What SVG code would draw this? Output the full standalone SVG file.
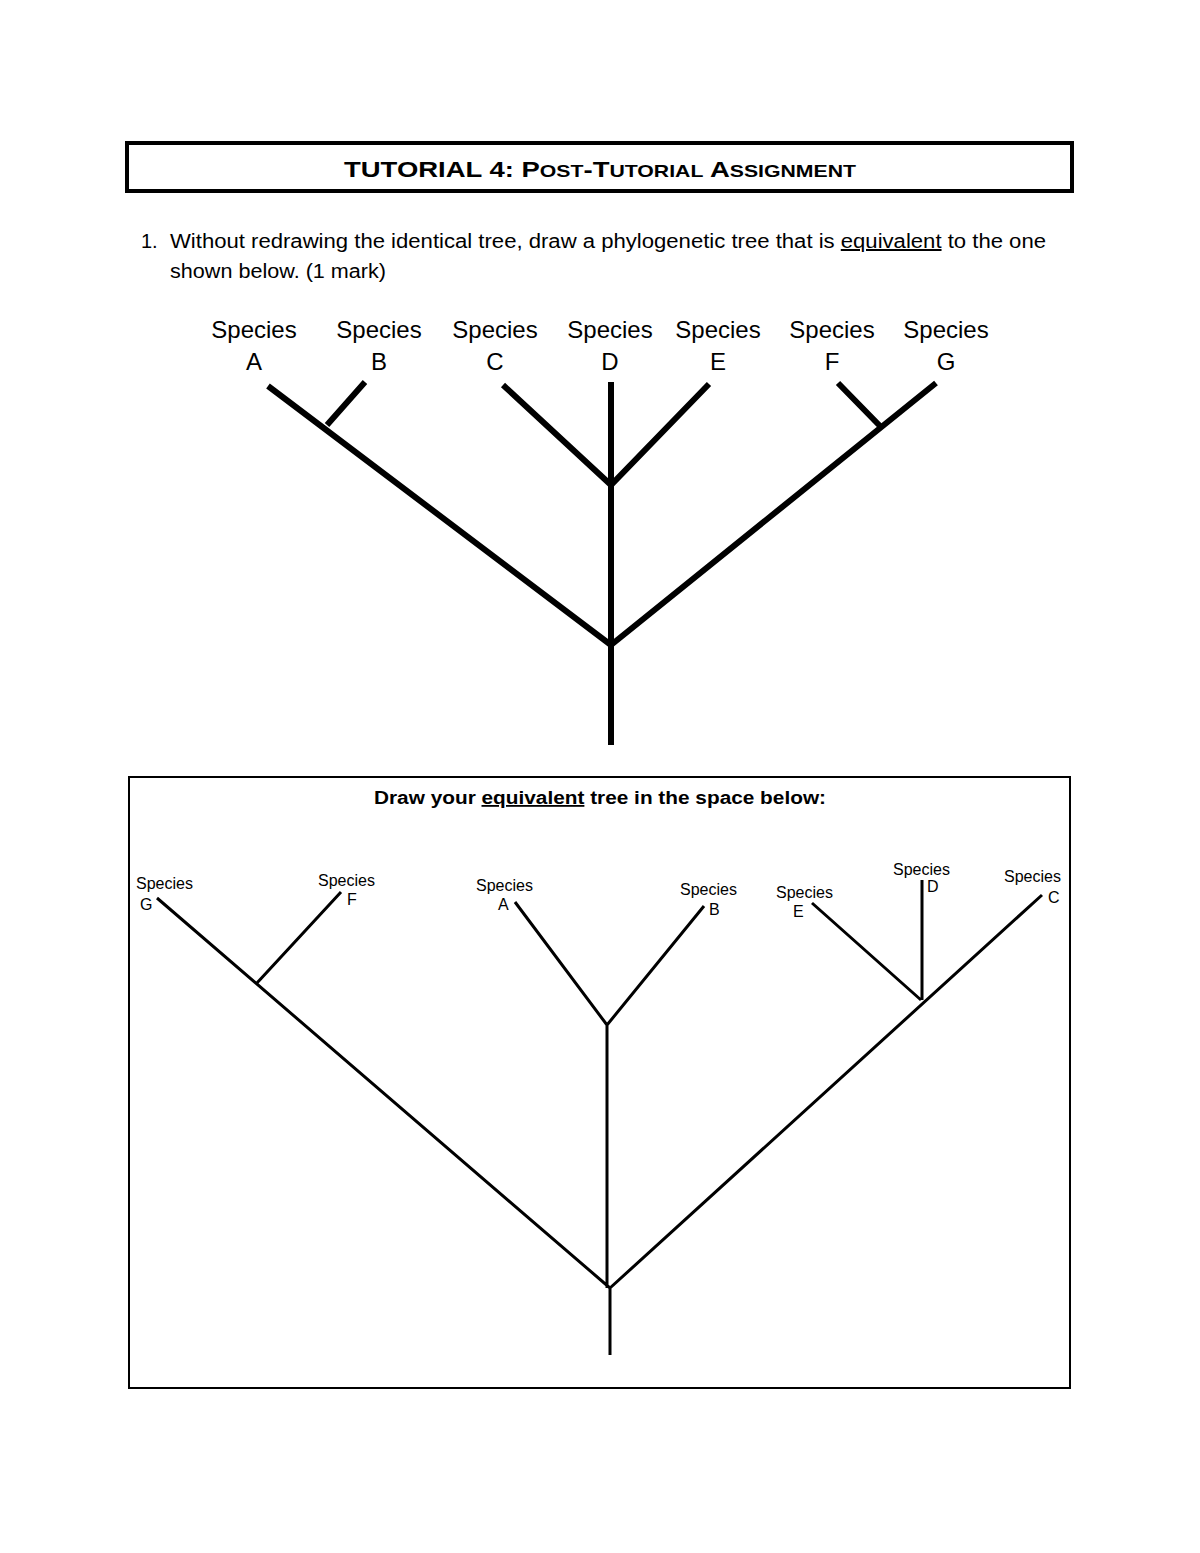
<svg xmlns="http://www.w3.org/2000/svg" width="1200" height="1553" viewBox="0 0 1200 1553">
<style>
.t{font-family:"Liberation Sans",Arial,sans-serif;fill:#000}
.big{font-size:24px}
.sm{font-size:16px}
.q{font-size:20px}
.thick{stroke:#000;stroke-width:6;fill:none}
.thin{stroke:#000;stroke-width:3;fill:none}
</style>
<rect width="1200" height="1553" fill="#fff"/>
<g id="header">
<rect x="127" y="143" width="945" height="48" fill="none" stroke="#000" stroke-width="4"/>
<text class="t" x="600" y="177" text-anchor="middle" font-weight="bold" font-size="22" textLength="512" lengthAdjust="spacingAndGlyphs">TUTORIAL 4: P<tspan font-size="17">OST</tspan>-T<tspan font-size="17">UTORIAL</tspan> A<tspan font-size="17">SSIGNMENT</tspan></text>
</g>
<g id="question">
<text class="t q" x="141" y="248">1.</text>
<text class="t q" x="170" y="248" textLength="876" lengthAdjust="spacingAndGlyphs">Without redrawing the identical tree, draw a phylogenetic tree that is <tspan text-decoration="underline">equivalent</tspan> to the one</text>
<text class="t q" x="170" y="278" textLength="216" lengthAdjust="spacingAndGlyphs">shown below. (1 mark)</text>
</g>
<g id="tree1-connectors">
<path class="thick" d="M611 745V645L268 386M327 425L365 382M611 645V382M503 385L611 485L709 384M611 645L936 383M838 383L880 426"/>
</g>
<g id="tree1-labels" class="t big" text-anchor="middle">
<g id="sA"><text x="254" y="338">Species</text><text x="254" y="370">A</text></g>
<g id="sB"><text x="379" y="338">Species</text><text x="379" y="370">B</text></g>
<g id="sC"><text x="495" y="338">Species</text><text x="495" y="370">C</text></g>
<g id="sD"><text x="610" y="338">Species</text><text x="610" y="370">D</text></g>
<g id="sE"><text x="718" y="338">Species</text><text x="718" y="370">E</text></g>
<g id="sF"><text x="832" y="338">Species</text><text x="832" y="370">F</text></g>
<g id="sG"><text x="946" y="338">Species</text><text x="946" y="370">G</text></g>
</g>
<g id="answer-box">
<rect x="129" y="777" width="941" height="611" fill="none" stroke="#000" stroke-width="2"/>
<text class="t" x="600" y="804" text-anchor="middle" font-weight="bold" font-size="18" textLength="452" lengthAdjust="spacingAndGlyphs">Draw your <tspan text-decoration="underline">equivalent</tspan> tree in the space below:</text>
</g>
<g id="tree2-connectors">
<path class="thin" d="M610 1355V1288L157 898M256 984L341 892M607 1288V1025M515 902L607 1025L704 906M610 1288L1042 895M812 903L921 1000M922 880V1000"/>
</g>
<g id="tree2-labels" class="t sm">
<g id="lG"><text x="136" y="889">Species</text><text x="140" y="910">G</text></g>
<g id="lF"><text x="318" y="886">Species</text><text x="347" y="905">F</text></g>
<g id="lA"><text x="476" y="891">Species</text><text x="498" y="910">A</text></g>
<g id="lB"><text x="680" y="895">Species</text><text x="709" y="915">B</text></g>
<g id="lE"><text x="776" y="898">Species</text><text x="793" y="917">E</text></g>
<g id="lD"><text x="893" y="875">Species</text><text x="927" y="892">D</text></g>
<g id="lC"><text x="1004" y="882">Species</text><text x="1048" y="903">C</text></g>
</g>
</svg>
